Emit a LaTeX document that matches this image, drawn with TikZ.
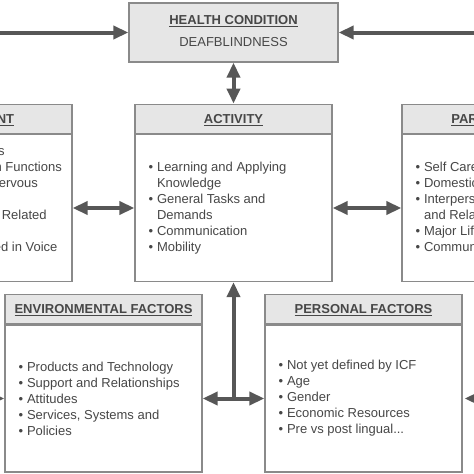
\documentclass[tikz,border=0pt]{standalone}
\usepackage{fontspec}
\setmainfont{Liberation Sans}
\usetikzlibrary{arrows.meta,positioning}

\definecolor{txtgray}{HTML}{474747}
\definecolor{edgegray}{HTML}{8A8A8A}
\definecolor{headgray}{HTML}{E6E6E6}
\definecolor{arrgray}{HTML}{575757}

% bullet item and continuation line
\newcommand{\itm}[1]{\makebox[8.5pt][l]{\textbullet}#1}
\newcommand{\cont}[1]{\hspace*{8.5pt}#1}

\tikzset{
  bodybox/.style={draw=edgegray, line width=1.3pt, fill=white,
    minimum width=197pt, minimum height=147pt, inner sep=0pt},
  headbox/.style={draw=edgegray, line width=1.3pt, fill=headgray,
    minimum width=197pt, minimum height=29pt, inner sep=0pt,
    text=txtgray, font=\fontsize{13}{16}\selectfont\bfseries,
    text height=9.4pt, text depth=0pt, anchor=south},
  itemlist/.style={align=left, inner sep=0pt, anchor=west, text=txtgray,
    font=\fontsize{13}{16}\selectfont},
  twoway/.style={arrgray, line width=4pt,
    {Triangle[length=15pt,width=13pt]}-{Triangle[length=15pt,width=13pt]}},
  oneway/.style={arrgray, line width=4pt, -{Triangle[length=15pt,width=13pt]}}
}

\begin{document}
\begin{tikzpicture}[x=1pt,y=-1pt]

  % Fix the frame of the picture
  \useasboundingbox (0,0) rectangle (474,474);
  \clip (0,0) rectangle (474,474);

  % Health condition box at the top
  \node[headbox, minimum width=209pt, minimum height=59pt, anchor=center] (hc) at (233.5,32.5) {};
  \node[anchor=base, text=txtgray, font=\fontsize{13}{16}\selectfont\bfseries] (hctitle) at (233.5,24.7) {\underline{HEALTH CONDITION}};
  \node[anchor=base, text=txtgray, font=\fontsize{13}{16}\selectfont] (hcname) at (233.5,46.7) {DEAFBLINDNESS};

  % Middle row: impairment, activity, participation
  \node[bodybox] (impb) at (-26.5,208) {};
  \node[headbox] (imph) at (impb.north) {\underline{IMPAIRMENT}};
  \node[itemlist] (impl) at ([xshift=14pt]impb.west) {%
    \itm{Sensory Functions}\\
    \itm{Voice and Speech Functions}\\
    \itm{Structure of the Nervous}\\
    \cont{System}\\
    \itm{The Eye, Ear and Related}\\
    \cont{Structures}\\
    \itm{Structures Involved in Voice}\\
    \cont{and Speech}};

  \node[bodybox] (actb) at (233.5,208) {};
  \node[headbox] (acth) at (actb.north) {\underline{ACTIVITY}};
  \node[itemlist] (actl) at ([xshift=14pt]actb.west) {%
    \itm{Learning and Applying}\\
    \cont{Knowledge}\\
    \itm{General Tasks and}\\
    \cont{Demands}\\
    \itm{Communication}\\
    \itm{Mobility}};

  \node[bodybox] (parb) at (500.5,208) {};
  \node[headbox] (parh) at (parb.north) {\underline{PARTICIPATION}};
  \node[itemlist] (parl) at ([xshift=14pt]parb.west) {%
    \itm{Self Care}\\
    \itm{Domestic Life}\\
    \itm{Interpersonal Interactions}\\
    \cont{and Relationships}\\
    \itm{Major Life Areas}\\
    \itm{Community Life}};

  % Bottom row: contextual factors
  \node[bodybox] (envb) at (103.5,398.5) {};
  \node[headbox] (envh) at (envb.north) {\underline{ENVIRONMENTAL FACTORS}};
  \node[itemlist] (envl) at ([xshift=14pt]envb.west) {%
    \itm{Products and Technology}\\
    \itm{Support and Relationships}\\
    \itm{Attitudes}\\
    \itm{Services, Systems and}\\
    \itm{Policies}};

  \node[bodybox] (perb) at (363.5,398.5) {};
  \node[headbox] (perh) at (perb.north) {\underline{PERSONAL FACTORS}};
  \node[itemlist] (perl) at ([xshift=14pt]perb.west) {%
    \itm{Not yet defined by ICF}\\
    \itm{Age}\\
    \itm{Gender}\\
    \itm{Economic Resources}\\
    \itm{Pre vs post lingual...}};

  % Loose ends of arrows coming in from outside the frame
  \coordinate (hcin-l) at (-30,32.5);
  \coordinate (hcin-r) at (504,32.5);
  \coordinate (envin) at (-40,398.5);
  \coordinate (perin) at (514,398.5);
  \coordinate (jn) at (actb.south |- envb.east);

  % Arrows
  \draw[oneway] (hcin-l) -- (hc.west);
  \draw[oneway] (hcin-r) -- (hc.east);
  \draw[twoway] (hc.south) -- (acth.north);
  \draw[twoway] (impb.east) -- (actb.west);
  \draw[twoway] (actb.east) -- (parb.west);
  \draw[twoway] (envb.east) -- (perb.west);
  \draw[oneway] (jn) -- (actb.south);
  \draw[oneway] (envin) -- (envb.west);
  \draw[oneway, shorten >=2pt] (perin) -- (perb.east);

\end{tikzpicture}
\end{document}
